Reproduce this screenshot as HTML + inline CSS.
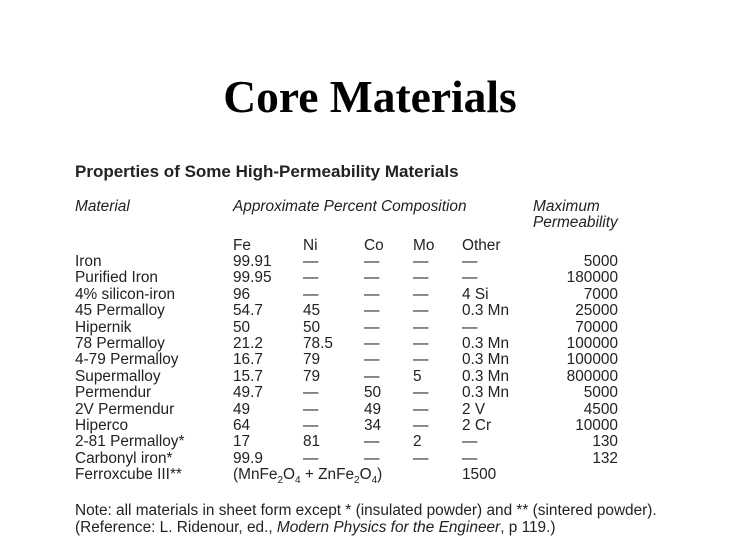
<!DOCTYPE html>
<html><head><style>
body{margin:0;width:740px;height:555px;background:#fff;position:relative;overflow:hidden;font-family:"Liberation Sans",sans-serif;color:#222}
div{position:absolute;white-space:nowrap;line-height:16px;font-size:15.4px}
.t{font-family:"Liberation Serif",serif;font-weight:bold;font-size:45.5px;line-height:50px;left:0;width:740px;text-align:center;top:72px;color:#000}
.i{font-style:italic}
.r{text-align:right}
</style></head><body>
<div class="t">Core Materials</div>
<div style="left:75px;top:164px;font-size:17px;font-weight:bold">Properties of Some High-Permeability Materials</div>
<div class="i" style="left:75px;top:199px">Material</div>
<div class="i" style="left:233px;top:199px">Approximate Percent Composition</div>
<div class="i" style="left:533px;top:199px">Maximum</div>
<div class="i" style="left:533px;top:215px">Permeability</div>
<div id="rows"></div>
<script>
var rows=[["","Fe","Ni","Co","Mo","Other",""],
["Iron","99.91","—","—","—","—","5000"],
["Purified Iron","99.95","—","—","—","—","180000"],
["4% silicon-iron","96","—","—","—","4 Si","7000"],
["45 Permalloy","54.7","45","—","—","0.3 Mn","25000"],
["Hipernik","50","50","—","—","—","70000"],
["78 Permalloy","21.2","78.5","—","—","0.3 Mn","100000"],
["4-79 Permalloy","16.7","79","—","—","0.3 Mn","100000"],
["Supermalloy","15.7","79","—","5","0.3 Mn","800000"],
["Permendur","49.7","—","50","—","0.3 Mn","5000"],
["2V Permendur","49","—","49","—","2 V","4500"],
["Hiperco","64","—","34","—","2 Cr","10000"],
["2-81 Permalloy*","17","81","—","2","—","130"],
["Carbonyl iron*","99.9","—","—","—","—","132"]];
var xs=[75,233,303,364,413,462];var h="";
rows.forEach(function(r,k){var y=237.5+k*16.4;
for(var c=0;c<6;c++)if(r[c])h+='<div style="left:'+xs[c]+'px;top:'+y+'px">'+r[c]+'</div>';
if(r[6])h+='<div class="r" style="left:518px;width:100px;top:'+y+'px">'+r[6]+'</div>';});
var y=237.5+14*16.4;
h+='<div style="left:75px;top:'+y+'px">Ferroxcube III**</div>';
h+='<div style="left:233px;top:'+y+'px">(MnFe<sub style="font-size:10px">2</sub>O<sub style="font-size:10px">4</sub> + ZnFe<sub style="font-size:10px">2</sub>O<sub style="font-size:10px">4</sub>)</div>';
h+='<div style="left:462px;top:'+y+'px">1500</div>';
document.getElementById("rows").outerHTML=h;
</script>
<div style="left:75px;top:503px">Note: all materials in sheet form except * (insulated powder) and ** (sintered powder).</div>
<div style="left:75px;top:520px">(Reference: L. Ridenour, ed., <i>Modern Physics for the Engineer</i>, p 119.)</div>
</body></html>
